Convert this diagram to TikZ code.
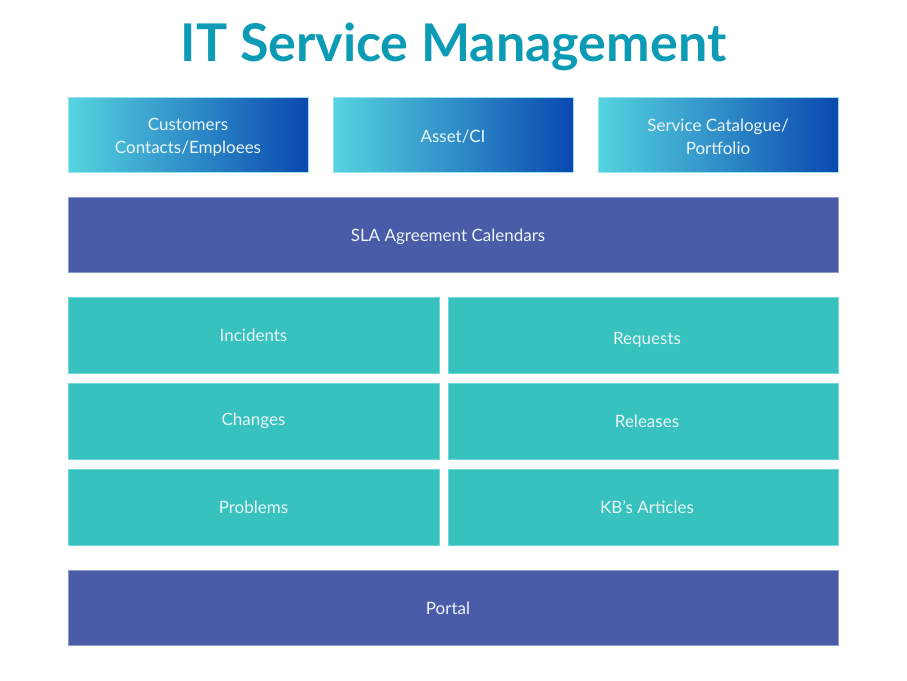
\documentclass[tikz,border=0pt]{standalone}
\usepackage{fontspec}
\setmainfont{Lato}
\definecolor{titlec}{HTML}{0B9BB5}
\definecolor{tealc}{HTML}{37C2C0}
\definecolor{tealb}{HTML}{6FD8D8}
\definecolor{purc}{HTML}{4A5BA8}
\definecolor{purb}{HTML}{8E9AD0}
\definecolor{gradl}{HTML}{55D4E0}
\definecolor{gradm}{HTML}{2E8ECF}
\definecolor{gradr}{HTML}{0A48B0}
\definecolor{txtc}{HTML}{EAF6F6}
\begin{document}
\begin{tikzpicture}[x=1pt,y=-1pt,
  boxbase/.style={draw, line width=0.8pt, inner sep=0pt},
  lbl/.style={inner sep=0pt, align=center, text=txtc, font=\fontsize{17}{23}\selectfont},
  gradbox/.style={boxbase, draw=tealb!70!white, left color=gradl, middle color=gradm, right color=gradr},
  tealbox/.style={boxbase, draw=tealb, fill=tealc},
  purbox/.style={boxbase, draw=purb, fill=purc}]
\useasboundingbox (0,0) rectangle (907,680);
\node[text=titlec, font=\fontsize{52}{56}\selectfont\bfseries] (title) at (453.5,47) {IT Service Management};
% top row
\path[gradbox] (68,97) rectangle (308,172);
\path[gradbox] (333,97) rectangle (573,172);
\path[gradbox] (598,97) rectangle (838,172);
\node[lbl] (cust) at (188,137) {Customers\\Contacts/Emploees};
\node[lbl] (asset) at (453,137) {Asset/CI};
\node[lbl] (svc) at (718,137) {Service Catalogue/\\Portfolio};
% SLA
\node[purbox, minimum width=770, minimum height=75] (sla) at (453,234.5) {};
\node[lbl] at ([xshift=-5pt,yshift=-2pt]sla.center) {SLA Agreement Calendars};
% grid
\node[tealbox, minimum width=371, minimum height=76] (inc) at (253.5,335) {};
\node[tealbox, minimum width=390, minimum height=76] (req) at (643.5,335) {};
\node[tealbox, minimum width=371, minimum height=76] (chg) at (253.5,421) {};
\node[tealbox, minimum width=390, minimum height=76] (rel) at (643.5,421) {};
\node[tealbox, minimum width=371, minimum height=76] (prb) at (253.5,507) {};
\node[tealbox, minimum width=390, minimum height=76] (kb) at (643.5,507) {};
\node[lbl] at (inc.center) {Incidents};
\node[lbl] at ([xshift=3.5pt,yshift=-5pt]req.center) {Requests};
\node[lbl] at (chg.center) {Changes};
\node[lbl] at ([xshift=3.5pt]rel.center) {Releases};
\node[lbl] at (prb.center) {Problems};
\node[lbl] at ([xshift=3.5pt]kb.center) {KB’s Articles};
% portal
\node[purbox, minimum width=770, minimum height=75] (portal) at (453,607.5) {};
\node[lbl] at ([xshift=-5pt,yshift=-1pt]portal.center) {Portal};
\end{tikzpicture}
\end{document}
